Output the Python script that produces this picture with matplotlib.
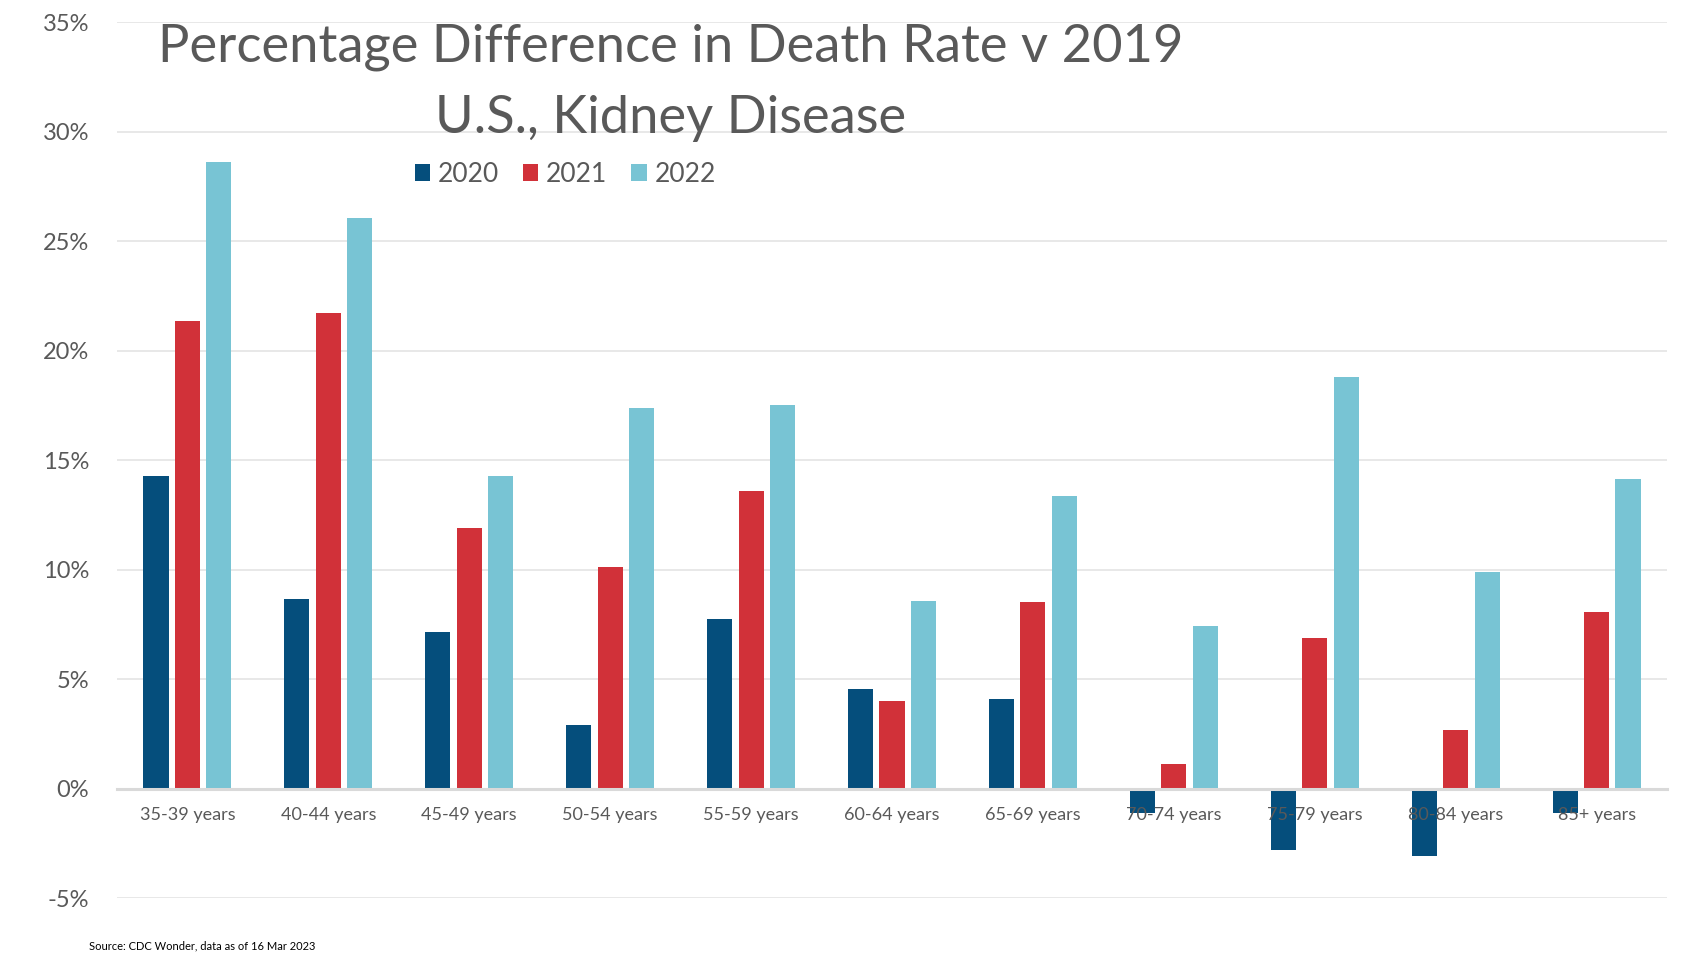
import matplotlib
matplotlib.use("Agg")
import matplotlib.pyplot as plt
import numpy as np
from matplotlib.ticker import FuncFormatter, MultipleLocator

plt.rcParams['font.family'] = ['Lato', 'DejaVu Sans']
plt.rcParams['font.weight'] = 'normal'

categories = ["35-39 years", "40-44 years", "45-49 years", "50-54 years", "55-59 years",
              "60-64 years", "65-69 years", "70-74 years", "75-79 years", "80-84 years", "85+ years"]
series_names = ["2020", "2021", "2022"]
v2020 = [14.28, 8.68, 7.14, 2.88, 7.73, 4.54, 4.08, -1.10, -2.80, -3.07, -1.11]
v2021 = [21.37, 21.7, 11.9, 10.11, 13.58, 3.99, 8.51, 1.11, 6.86, 2.66, 8.05]
v2022 = [28.6, 26.08, 14.28, 17.4, 17.5, 8.55, 13.35, 7.41, 18.79, 9.88, 14.13]
colors = ["#054E7C", "#D13139", "#78C4D4"]
title1 = "Percentage Difference in Death Rate v 2019"
title2 = "U.S., Kidney Disease"
source = "Source: CDC Wonder, data as of 16 Mar 2023"

TXT = "#595959"
fig = plt.figure(figsize=(17, 9.68), dpi=100)
ax = fig.add_axes([0.0688, 0.0723, 0.9118, 0.9047])

x = np.arange(len(categories))
width = 0.178
offs = [-0.223, 0.0, 0.223]
for vals, off, c, name in zip([v2020, v2021, v2022], offs, colors, series_names):
    ax.bar(x + off, vals, width=width, color=c, label=name, zorder=2)

ax.set_xlim(-0.5, len(categories) - 0.5)
ax.set_ylim(-5, 35)
ax.yaxis.set_major_locator(MultipleLocator(5))
ax.yaxis.set_major_formatter(FuncFormatter(lambda v, p: f"{v:.0f}%"))
for yv in range(-5, 36, 5):
    if yv != 0:
        ax.axhline(yv, color="#E6E6E6", lw=1.3, zorder=0)

for s in ["top", "right", "left"]:
    ax.spines[s].set_visible(False)
ax.spines["bottom"].set_position(("data", 0))
ax.spines["bottom"].set_color("#D9D9D9")
ax.spines["bottom"].set_linewidth(2.2)
ax.spines["bottom"].set_zorder(4)
ax.xaxis.set_zorder(4)

ax.set_xticks(x)
ax.set_xticklabels(categories)
ax.tick_params(axis="x", length=0, pad=13, labelsize=13, labelcolor=TXT)
ax.tick_params(axis="y", length=0, pad=20, labelsize=17, labelcolor=TXT)

fig.text(0.3947, 0.936, title1, ha="center", va="baseline", fontsize=37.8, color=TXT)
fig.text(0.3947, 0.8626, title2, ha="center", va="baseline", fontsize=37.8, color=TXT)

leg = fig.legend(loc="center", bbox_to_anchor=(0.3325, 0.82), ncol=3, frameon=False,
                 fontsize=19, handlelength=0.58, handleheight=0.58, handletextpad=0.29,
                 columnspacing=0.91, borderpad=0)
for t in leg.get_texts():
    t.set_color(TXT)

fig.text(0.0524, 0.0227, source, ha="left", va="center", fontsize=8, color="#000000")

fig.savefig("out.png", dpi=100)
